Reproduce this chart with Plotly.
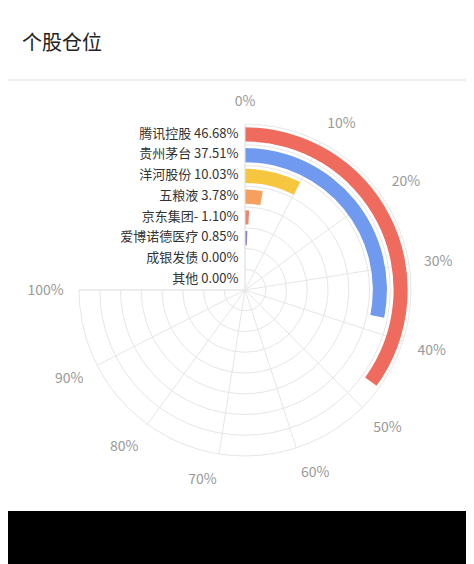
import plotly.graph_objects as go

# 종목명 / 비중(%) — 안쪽(其他)에서 바깥쪽(腾讯控股) 순서
names = ["其他", "成银发债", "爱博诺德医疗", "京东集团-", "五粮液", "洋河股份", "贵州茅台", "腾讯控股"]
weights = [0.00, 0.00, 0.85, 1.10, 3.78, 10.03, 37.51, 46.68]
colors = ["#F58B30", "#F58B30", "#8C7FCB", "#E98571", "#F5A05F", "#F6C63F", "#6F9AF0", "#EF6B5E"]
tick_pcts = [0, 10, 20, 30, 40, 50, 60, 70, 80, 90, 100]

DEG_PER_PCT = 2.7  # 100% = 270도
BAR_THICK = 0.68

# 페이지 body 여백(8px) 보정
W, H = 466, 556

idx = list(range(len(names)))
fig = go.Figure()

fig.add_trace(go.Barpolar(
    r=[BAR_THICK] * len(names),
    base=[i + 0.5 - BAR_THICK / 2 for i in idx],
    theta=[w * DEG_PER_PCT / 2 for w in weights],
    width=[w * DEG_PER_PCT for w in weights],
    marker=dict(color=colors, line=dict(width=0)),
    hoverinfo="skip",
    showlegend=False,
))

# 왼쪽 라벨 (종목명 + 비중)
fig.add_trace(go.Scatterpolar(
    r=[i + 0.5 for i in idx],
    theta=[0] * len(names),
    mode="text",
    text=[f"{n} {w:.2f}%\u2002" for n, w in zip(names, weights)],
    textposition="middle left",
    textfont=dict(size=13, color="#333333"),
    cliponaxis=False,
    hoverinfo="skip",
    showlegend=False,
))

fig.update_layout(
    width=W,
    height=H,
    margin=dict(l=0, r=0, t=0, b=0),
    paper_bgcolor="white",
    font=dict(family="Noto Sans CJK SC", color="#333333"),
    polar=dict(
        domain=dict(x=[71 / W, 403 / W], y=[108 / H, 440 / H]),
        sector=[-180, 90],
        bgcolor="white",
        angularaxis=dict(
            rotation=90,
            direction="clockwise",
            tickmode="array",
            tickvals=[p * DEG_PER_PCT for p in tick_pcts],
            ticktext=[f"{p}%" for p in tick_pcts],
            tickfont=dict(size=14, color="#999999"),
            ticks="outside",
            ticklen=12,
            tickcolor="rgba(0,0,0,0)",
            showline=True,
            linecolor="#e6e6e6",
            gridcolor="#e6e6e6",
            gridwidth=1,
        ),
        radialaxis=dict(
            range=[0, len(names)],
            tickmode="array",
            tickvals=[i + 1 for i in idx],
            showticklabels=False,
            ticks="",
            showline=False,
            gridcolor="#e6e6e6",
            gridwidth=1,
        ),
    ),
    annotations=[dict(
        text="个股仓位", x=12 / W, y=1 - 34 / H, xref="paper", yref="paper",
        xanchor="left", yanchor="middle", showarrow=False,
        font=dict(size=20, color="#222222"),
    )],
    shapes=[
        dict(type="line", xref="paper", yref="paper", x0=0, x1=1,
             y0=1 - 72 / H, y1=1 - 72 / H, line=dict(color="#e8e8e8", width=1.5)),
        dict(type="rect", xref="paper", yref="paper", x0=0, x1=1,
             y0=0, y1=53 / H, fillcolor="black", line=dict(width=0)),
    ],
)

fig.write_html("out.html")
